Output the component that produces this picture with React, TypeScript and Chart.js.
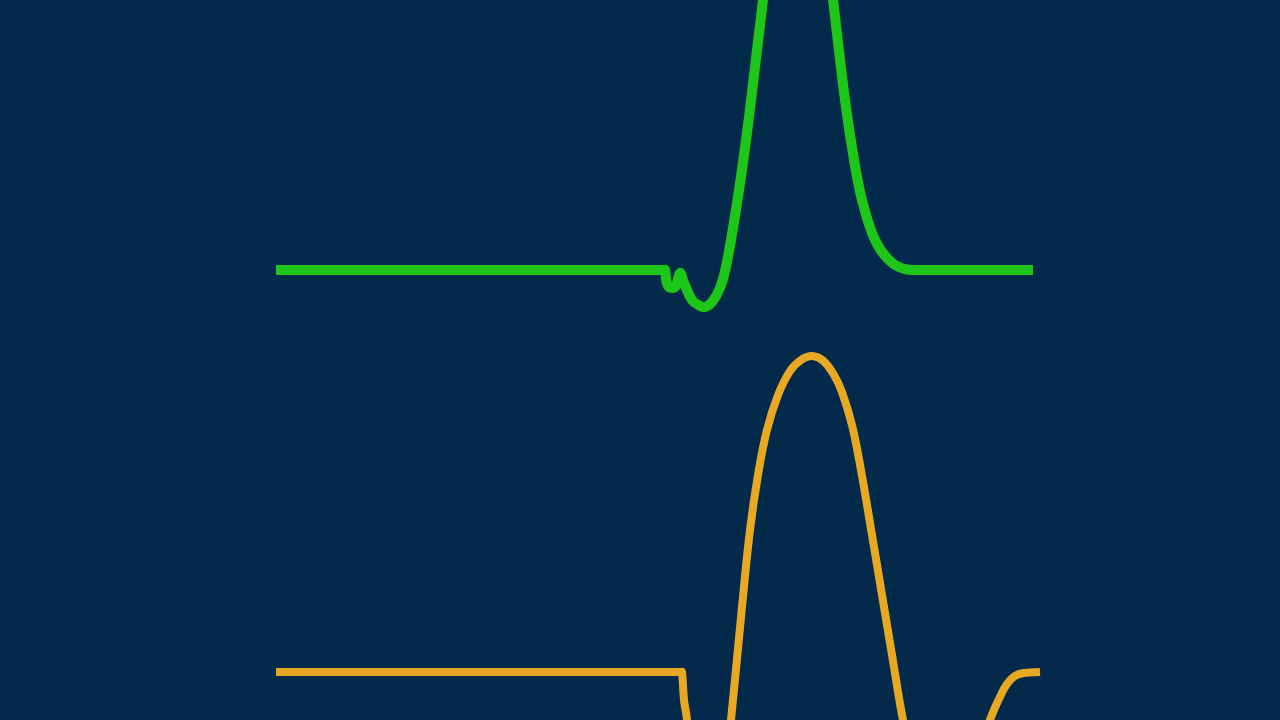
import { useEffect, useRef } from 'react';
import { Chart, registerables } from 'chart.js';

Chart.register(...registerables);

// time in ms, signal values in arbitrary units
const greenTime = [
  0, 149.6, 155.2, 155.6, 156.8, 159.6, 161.6, 163.2, 166.4, 169.6, 171.6, 174.4,
  177.6, 180, 184.6, 188.4, 191.6, 194.8, 198.4, 208.8, 218.4, 222.8, 227.6, 231.2,
  234.4, 238.4, 241.6, 244.8, 248, 251.6, 255.6, 273.6, 302.8
];
const greenValue = [
  0, 0, 0, 0, -5.3, -5.7, -1, -4.3, -10, -12, -12.3, -10.7,
  -6, 1, 23.3, 45.7, 67.7, 90, 115, 140, 118.3, 90, 56.7, 36.7,
  23.3, 12.3, 7, 3.7, 1.5, 0.3, 0, 0, 0
];

const orangeTime = [
  0, 157.6, 162, 162.4, 163.2, 164.4, 166.4, 171.6, 176.8, 180, 182, 186.4,
  189.6, 192.8, 196.4, 200.8, 205.6, 210, 214.4, 218.8, 223.2, 226.4, 230.4, 234,
  238.4, 242.4, 246.4, 250.8, 255.6, 265.6, 276.8, 282.8, 285.6, 289.6, 292.4, 295.6,
  299.6, 305.6
];
const orangeValue = [
  0, 0, 0, 0, -9.3, -16, -39.3, -52.7, -44.3, -29.3, -16, 21.7,
  47.3, 65.7, 80.7, 92.3, 100.3, 104, 105.3, 103.8, 99, 93.3, 82.3, 67.3,
  45.7, 25.7, 5.7, -16, -34.3, -42.7, -37.7, -24.3, -16, -8.3, -4, -1.3,
  -0.3, 0
];

const toPoints = (xs: number[], ys: number[]) => xs.map((x, i) => ({ x, y: ys[i] }));

export default function App() {
  const ref = useRef<HTMLCanvasElement | null>(null);

  useEffect(() => {
    document.body.style.margin = '0';
    if (!ref.current) return;
    const chart = new Chart(ref.current, {
      type: 'line',
      data: {
        datasets: [
          {
            label: 'Green trace',
            data: toPoints(greenTime, greenValue),
            borderColor: '#1fc61a',
            borderWidth: 10,
            borderJoinStyle: 'round',
            tension: 0.4,
            pointRadius: 0,
            yAxisID: 'yGreen'
          },
          {
            label: 'Orange trace',
            data: toPoints(orangeTime, orangeValue),
            borderColor: '#e9a824',
            borderWidth: 8,
            borderJoinStyle: 'round',
            tension: 0.4,
            pointRadius: 0,
            yAxisID: 'yOrange'
          }
        ]
      },
      options: {
        animation: false,
        responsive: true,
        maintainAspectRatio: false,
        layout: { padding: 0 },
        plugins: { legend: { display: false }, tooltip: { enabled: false } },
        scales: {
          x: { type: 'linear', min: -110.4, max: 401.6, display: false },
          yGreen: { min: -150, max: 90, display: false },
          yOrange: { min: -16, max: 224, display: false }
        }
      }
    });
    return () => chart.destroy();
  }, []);

  return (
    <div style={{ position: 'fixed', inset: 0, width: '100vw', height: '100vh', background: '#032a4a' }}>
      <canvas ref={ref} aria-label="Two signal traces" />
    </div>
  );
}
